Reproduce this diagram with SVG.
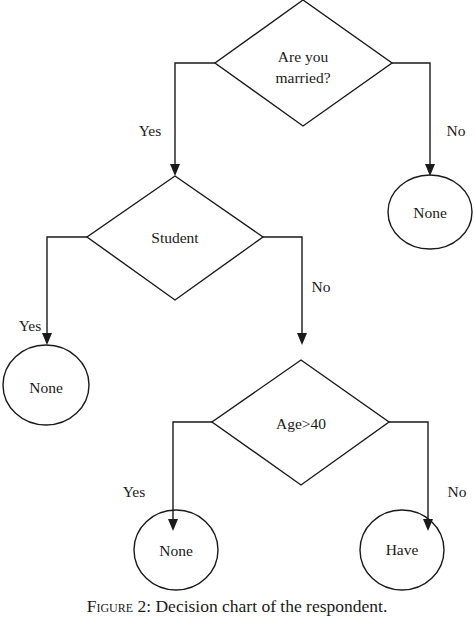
<svg xmlns="http://www.w3.org/2000/svg" width="474" height="620" viewBox="0 0 474 620">
<style>
.s{fill:#fff;stroke:#1a1a1a;stroke-width:1.4}
.c{fill:none;stroke:#1a1a1a;stroke-width:1.4}
.h{fill:#1a1a1a}
text{font-family:"Liberation Serif","Times New Roman",serif;font-size:15.5px;fill:#1a1a1a}
.m{text-anchor:middle;dominant-baseline:central}
</style>
<rect width="474" height="620" fill="#fff"/>
<g id="married">
<polygon class="s" points="303,0 392,63 303,126 215,63"/>
<text x="303" y="62" text-anchor="middle">Are you</text>
<text x="303" y="83" text-anchor="middle">married?</text>
</g>
<g id="none1">
<ellipse class="s" cx="430" cy="212" rx="42" ry="37"/>
<text x="430" y="212" class="m">None</text>
</g>
<g id="student">
<polygon class="s" points="175,176 263,237 175,300 87,237"/>
<text x="175" y="237" class="m">Student</text>
</g>
<g id="none2">
<ellipse class="s" cx="46" cy="385" rx="43" ry="40"/>
<text x="46" y="387" class="m">None</text>
</g>
<g id="age">
<polygon class="s" points="301,360 389,422 301,485 212,422"/>
<text x="301" y="423" class="m">Age&gt;40</text>
</g>
<g id="none3">
<ellipse class="s" cx="176" cy="550" rx="42" ry="40"/>
<text x="176" y="550" class="m">None</text>
</g>
<g id="have">
<ellipse class="s" cx="402" cy="550" rx="42" ry="40"/>
<text x="402" y="549" class="m">Have</text>
</g>
<g id="connectors">
<path class="c" d="M215,63 H175 V168"/>
<path class="c" d="M392,63 H430 V168"/>
<path class="c" d="M87,237 H47 V337"/>
<path class="c" d="M263,237 H302 V337"/>
<path class="c" d="M212,422 H173 V523"/>
<path class="c" d="M389,422 H428 V523"/>
<path class="h" d="M170,164 L180,164 L175,176 Z"/>
<path class="h" d="M425,164 L435,164 L430,176 Z"/>
<path class="h" d="M42,333 L52,333 L47,345 Z"/>
<path class="h" d="M297,333 L307,333 L302,345 Z"/>
<path class="h" d="M168,519 L178,519 L173,531 Z"/>
<path class="h" d="M423,519 L433,519 L428,531 Z"/>
<text x="150" y="136" text-anchor="middle">Yes</text>
<text x="456" y="136" text-anchor="middle">No</text>
<text x="30" y="331" text-anchor="middle">Yes</text>
<text x="321" y="292" text-anchor="middle">No</text>
<text x="134" y="497" text-anchor="middle">Yes</text>
<text x="457" y="497" text-anchor="middle">No</text>
</g>
<text x="237" y="612" text-anchor="middle" style="font-size:17.5px"><tspan style="font-variant:small-caps">Figure</tspan> 2: Decision chart of the respondent.</text>
</svg>
